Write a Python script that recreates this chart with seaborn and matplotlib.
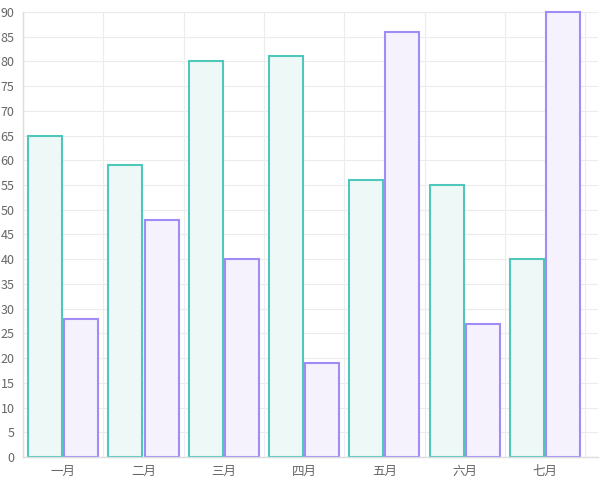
import matplotlib
matplotlib.use("Agg")
from matplotlib import pyplot as plt
import seaborn as sns
import numpy as np
import pandas as pd

months = ["一月", "二月", "三月", "四月", "五月", "六月", "七月"]
series_a = [65, 59, 80, 81, 56, 55, 40]
series_b = [28, 48, 40, 19, 86, 27, 90]
series_names = ["A", "B"]

edge_colors = ["#4fc8bb", "#a18cf6"]
fill_colors = ["#eef8f6", "#f5f2fe"]

df = pd.DataFrame({
    "month": months * 2,
    "value": series_a + series_b,
    "series": [series_names[0]] * len(months) + [series_names[1]] * len(months),
})

sns.set_theme(style="white")
plt.rcParams['font.family'] = ['Noto Sans CJK SC', 'DejaVu Sans']

fig = plt.figure(figsize=(6, 4.8), dpi=100)
ax = fig.add_axes([23/600, 23/480, (598-23)/600, (457-12)/480])

sns.barplot(data=df, x="month", y="value", hue="series", order=months,
            hue_order=series_names, width=0.9, gap=0.06, dodge=True,
            legend=False, ax=ax)

for i, cont in enumerate(ax.containers):
    for bar in cont:
        bar.set_facecolor(fill_colors[i])
        bar.set_edgecolor(edge_colors[i])
        bar.set_linewidth(1.5)
        bar.set_clip_on(False)

grid_col = "#ececec"
ax.set_ylim(0, 90)
ax.set_xlim(-0.5, 6.66)
ax.set_yticks(np.arange(0, 91, 5))
ax.set_xticks(np.arange(-0.5, 7, 1), minor=True)
ax.grid(axis="y", color=grid_col, linewidth=0.8)
ax.grid(axis="x", which="minor", color=grid_col, linewidth=0.8)
ax.set_axisbelow(True)
ax.tick_params(axis="y", which="major", length=5, color=grid_col, labelsize=9,
               labelcolor="#666666", pad=1)
ax.tick_params(axis="x", which="major", length=0, labelsize=9,
               labelcolor="#666666", pad=6)
ax.tick_params(axis="x", which="minor", length=5, color=grid_col)
ax.set_xlabel("")
ax.set_ylabel("")
for s in ["top", "right"]:
    ax.spines[s].set_visible(False)
for s in ["left", "bottom"]:
    ax.spines[s].set_color("#dddddd")
    ax.spines[s].set_linewidth(1)

fig.savefig("out.png", dpi=100)
